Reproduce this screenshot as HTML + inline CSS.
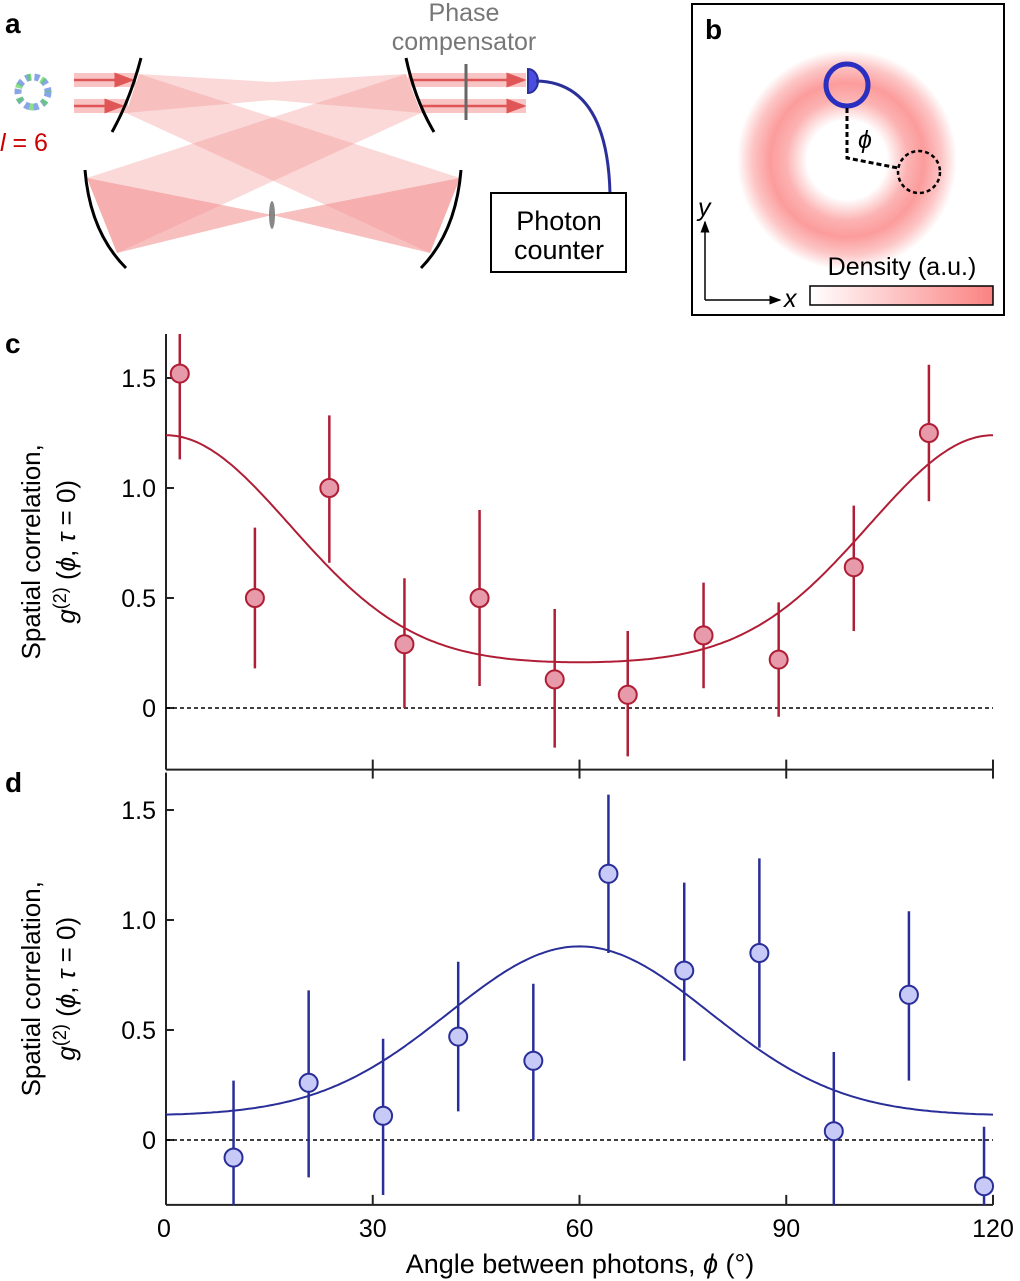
<!DOCTYPE html>
<html><head><meta charset="utf-8"><style>
html,body{margin:0;padding:0;background:#fff;}
svg{display:block;font-family:"Liberation Sans",sans-serif;}
</style></head><body>
<svg id="fig" width="1020" height="1281" viewBox="0 0 1020 1281" xmlns="http://www.w3.org/2000/svg">
<defs>
<radialGradient id="ringG" cx="0.5" cy="0.5" r="0.5">
<stop offset="0" stop-color="#fb8a8a" stop-opacity="0"/>
<stop offset="0.36" stop-color="#fb8a8a" stop-opacity="0"/>
<stop offset="0.55" stop-color="#fb8a8a" stop-opacity="0.65"/>
<stop offset="0.7" stop-color="#fb8a8a" stop-opacity="0.85"/>
<stop offset="0.86" stop-color="#fb8a8a" stop-opacity="0.5"/>
<stop offset="1" stop-color="#fb8a8a" stop-opacity="0"/>
</radialGradient>
<linearGradient id="cbarG" x1="0" x2="1" y1="0" y2="0"><stop offset="0" stop-color="#fff"/><stop offset="1" stop-color="#fb8282"/></linearGradient>
<marker id="arrR" markerWidth="8" markerHeight="8" refX="7" refY="4" orient="auto"><path d="M0,1 L8,4 L0,7 z" fill="#e05555"/></marker>
<marker id="arrK" markerWidth="8" markerHeight="8" refX="7" refY="4" orient="auto"><path d="M0,1 L8,4 L0,7 z" fill="#000"/></marker>
</defs>
<!-- panel a -->
<g>
<text x="5" y="33" font-size="28" font-weight="bold">a</text>
<g fill="#f28b8b" fill-opacity="0.33">
<polygon points="139,74 126,113 430,253 460,178"/>
<polygon points="87,178 117,253 421,113 406,74"/>
<polygon points="139,74 126,113 272,100 421,113 406,74 272,82"/>
<polygon points="87,178 117,253 272,215 430,253 460,178 272,215"/>
<polygon points="87,178 117,253 272,215"/>
<polygon points="460,178 430,253 272,215"/>
</g>
<rect x="74" y="73" width="62" height="14" fill="#f9c4c4"/>
<rect x="74" y="99" width="54" height="14" fill="#f9c4c4"/>
<line x1="74" y1="80" x2="132" y2="80" stroke="#e05555" stroke-width="2.5" marker-end="url(#arrR)"/>
<line x1="74" y1="106" x2="122" y2="106" stroke="#e05555" stroke-width="2.5" marker-end="url(#arrR)"/>
<rect x="408" y="73" width="118" height="14" fill="#f9c4c4"/>
<rect x="420" y="99" width="106" height="14" fill="#f9c4c4"/>
<line x1="410" y1="80" x2="524" y2="80" stroke="#e05555" stroke-width="2.5" marker-end="url(#arrR)"/>
<line x1="422" y1="106" x2="524" y2="106" stroke="#e05555" stroke-width="2.5" marker-end="url(#arrR)"/>
<g fill="none" stroke="#000" stroke-width="3">
<path d="M141,58 Q130,100 112,132"/>
<path d="M406,58 Q415,100 434,132"/>
<path d="M85,170 Q90,232 126,268"/>
<path d="M461,170 Q456,232 421,268"/>
</g>
<ellipse cx="272" cy="215" rx="3" ry="14" fill="#555" opacity="0.7"/>
<line x1="466" y1="64" x2="466" y2="120" stroke="#666" stroke-width="3"/>
<text x="464" y="21" font-size="25" fill="#777" text-anchor="middle">Phase</text>
<text x="464" y="50" font-size="25" fill="#777" text-anchor="middle">compensator</text>
<path d="M528,69 A10,12 0 0 1 528,93 Z" fill="#4a4ee0" stroke="#2b2f9a" stroke-width="2"/>
<path d="M536,81 Q607,82 610,193" fill="none" stroke="#2b2f9a" stroke-width="3"/>
<rect x="491" y="193" width="135" height="79" fill="#fff" stroke="#000" stroke-width="2"/>
<text x="559" y="230" font-size="27" text-anchor="middle">Photon</text>
<text x="559" y="259" font-size="27" text-anchor="middle">counter</text>
<circle cx="33" cy="92" r="15" fill="none" stroke="#6a8fe0" stroke-width="7" stroke-dasharray="5 4" opacity="0.8"/>
<circle cx="33" cy="92" r="15" fill="none" stroke="#5cd05c" stroke-width="7" stroke-dasharray="4 10" stroke-dashoffset="5" opacity="0.7"/>
<text x="0" y="151" font-size="25" fill="#cc0000"><tspan font-style="italic">l</tspan> = 6</text>
</g>
<!-- panel b -->
<g>
<rect x="692" y="4" width="312" height="311" fill="#fff" stroke="#000" stroke-width="2"/>
<text x="705" y="39" font-size="28" font-weight="bold">b</text>
<circle cx="847" cy="160" r="110" fill="url(#ringG)"/>
<circle cx="847" cy="85" r="21" fill="none" stroke="#2b2fc0" stroke-width="5"/>
<circle cx="919" cy="172" r="21" fill="none" stroke="#000" stroke-width="2.5" stroke-dasharray="4 3"/>
<path d="M847,108 L847,158 L898,168" fill="none" stroke="#000" stroke-width="3" stroke-dasharray="5 3"/>
<text x="858" y="148" font-size="25" font-style="italic">ϕ</text>
<line x1="705" y1="300" x2="705" y2="222" stroke="#000" stroke-width="1.5" marker-end="url(#arrK)"/>
<line x1="705" y1="300" x2="780" y2="300" stroke="#000" stroke-width="1.5" marker-end="url(#arrK)"/>
<text x="698" y="216" font-size="25" font-style="italic">y</text>
<text x="784" y="307" font-size="25" font-style="italic">x</text>
<text x="902" y="275" font-size="25" text-anchor="middle">Density (a.u.)</text>
<rect x="810" y="286" width="183" height="19" fill="url(#cbarG)" stroke="#000" stroke-width="1.5"/>
</g>
<text x="5" y="353" font-size="28" font-weight="bold">c</text>
<text x="5" y="792" font-size="28" font-weight="bold">d</text>
<g id="plots"></g>
</svg>
<script>
// panel c data
const cAngles = [2.0, 12.9, 23.7, 34.6, 45.5, 56.4, 67.0, 78.0, 88.9, 99.8, 110.7];
const cValues = [1.52, 0.50, 1.00, 0.29, 0.50, 0.13, 0.06, 0.33, 0.22, 0.64, 1.25];
const cErrHigh = [1.72, 0.82, 1.33, 0.59, 0.90, 0.45, 0.35, 0.57, 0.48, 0.92, 1.56];
const cErrLow = [1.13, 0.18, 0.66, 0.00, 0.10, -0.18, -0.22, 0.09, -0.04, 0.35, 0.94];
const cFit = [0.20, 1.04, 18]; // offset, amplitude, sigma (peaks at 0 and 120)
// panel d data
const dAngles = [9.8, 20.7, 31.5, 42.4, 53.3, 64.2, 75.2, 86.1, 96.9, 107.8, 118.7];
const dValues = [-0.08, 0.26, 0.11, 0.47, 0.36, 1.21, 0.77, 0.85, 0.04, 0.66, -0.21];
const dErrHigh = [0.27, 0.68, 0.46, 0.81, 0.71, 1.57, 1.17, 1.28, 0.40, 1.04, 0.06];
const dErrLow = [-0.30, -0.17, -0.25, 0.13, 0.00, 0.85, 0.36, 0.42, -0.30, 0.27, -0.30];
const dFit = [0.11, 0.77, 19]; // offset, amplitude, sigma (peak at 60)
const xTicks = [0, 30, 60, 90, 120];
const yTicks = [0, 0.5, 1.0, 1.5];
const yTickLabels = ['0', '0.5', '1.0', '1.5'];

const NS = 'http://www.w3.org/2000/svg';
const root = document.getElementById('plots');
function mk(tag, attrs, parent) {
  const e = document.createElementNS(NS, tag);
  for (const k in attrs) e.setAttribute(k, attrs[k]);
  (parent || root).appendChild(e);
  return e;
}
const X0 = 166, X1 = 993;
const xS = v => X0 + (v / 120) * (X1 - X0);

function panel(opts) {
  const g = mk('g', {});
  
  
  const yS = v => opts.y0 - v * 220;
  const top = yS(opts.yMax), bot = yS(opts.yMin);
  const la = mk('line', {x1: X0, y1: top, x2: X0, y2: bot, stroke: '#222', 'stroke-width': 2}, g);
  
  
  const ba = mk('line', {x1: X0, y1: bot, x2: X1, y2: bot, stroke: '#222', 'stroke-width': 2}, g);
  
  
  xTicks.forEach(t => {
    if (t === 0) return;
    const tk = mk('line', {x1: xS(t), y1: bot - 10, x2: xS(t), y2: bot + (opts.tickBoth ? 9 : 0), stroke: '#222', 'stroke-width': 2}, g);
    
    
    if (opts.xLabels) {
      const tl = mk('text', {x: xS(t), y: bot + 32, 'font-size': 25, 'text-anchor': 'middle'}, g);
      tl.textContent = String(t);
      
      
    }
  });
  if (opts.xLabels) {
    const tl = mk('text', {x: xS(0) - 2, y: bot + 32, 'font-size': 25, 'text-anchor': 'middle'}, g);
    tl.textContent = '0';
    
    
  }
  yTicks.forEach((t, i) => {
    const tk = mk('line', {x1: X0, y1: yS(t), x2: X0 + 8, y2: yS(t), stroke: '#222', 'stroke-width': 2}, g);
    
    
    const tl = mk('text', {x: 156, y: yS(t) + 9, 'font-size': 25, 'text-anchor': 'end'}, g);
    tl.textContent = yTickLabels[i];
    
    
  });
  const zl = mk('line', {x1: X0, y1: yS(0), x2: X1, y2: yS(0), stroke: '#000', 'stroke-width': 1.5, 'stroke-dasharray': '4 3'}, g);
  
  
  const cy = (top + bot) / 2;
  const t1 = mk('text', {x: 0, y: 0, 'font-size': 26, 'text-anchor': 'middle', transform: `translate(40,${cy}) rotate(-90)`}, g);
  t1.textContent = 'Spatial correlation,';
  
  
  const t2 = mk('text', {x: 0, y: 0, 'font-size': 26, 'text-anchor': 'middle', transform: `translate(75,${cy}) rotate(-90)`}, g);
  t2.innerHTML = '<tspan font-style="italic">g</tspan><tspan dy="-9" font-size="18">(2)</tspan><tspan dy="9"> (</tspan><tspan font-style="italic">ϕ</tspan>, <tspan font-style="italic">τ</tspan> = 0)';
  
  
  let d = '';
  for (let a = 0; a <= 120; a += 0.5) {
    const v = opts.fit(a);
    d += (a === 0 ? 'M' : 'L') + xS(a).toFixed(1) + ',' + yS(v).toFixed(1);
  }
  const fc = mk('path', {d: d, fill: 'none', stroke: opts.line, 'stroke-width': 2}, g);
  
  
  opts.xs.forEach((a, i) => {
    const hi = Math.min(opts.hi[i], opts.yMax), lo = Math.max(opts.lo[i], opts.yMin);
    const eb = mk('line', {x1: xS(a), y1: yS(hi), x2: xS(a), y2: yS(lo), stroke: opts.line, 'stroke-width': 2.5}, g);
    
    
    const pt = mk('circle', {cx: xS(a), cy: yS(opts.ys[i]), r: 9, fill: opts.fill, stroke: opts.line, 'stroke-width': 2}, g);
    
    
  });
}

panel({name: 'panel-c-chart', y0: 708, yMax: 1.70, yMin: -0.28, xLabels: false, tickBoth: true,
  xs: cAngles, ys: cValues, hi: cErrHigh, lo: cErrLow, line: '#b01e36', fill: '#e79aaa',
  fit: a => cFit[0] + cFit[1] * (Math.exp(-a * a / (2 * cFit[2] * cFit[2])) + Math.exp(-(a - 120) * (a - 120) / (2 * cFit[2] * cFit[2])))});
panel({name: 'panel-d-chart', y0: 1140, yMax: 1.67, yMin: -0.295, xLabels: true, tickBoth: false,
  xs: dAngles, ys: dValues, hi: dErrHigh, lo: dErrLow, line: '#2a2e98', fill: '#c7caf6',
  fit: a => dFit[0] + dFit[1] * Math.exp(-(a - 60) * (a - 60) / (2 * dFit[2] * dFit[2]))});

const xt = mk('text', {x: 580, y: 1273, 'font-size': 27, 'text-anchor': 'middle'});
xt.innerHTML = 'Angle between photons, <tspan font-style="italic">ϕ</tspan> (°)';


</script>
</body></html>
